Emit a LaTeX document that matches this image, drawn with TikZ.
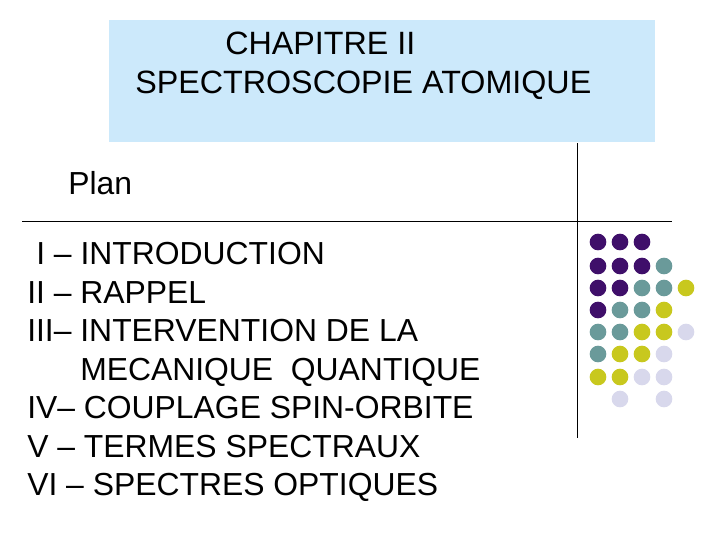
\documentclass[tikz,border=0pt]{standalone}
\usepackage{fontspec}
\setmainfont{Liberation Sans}
\begin{document}
\begin{tikzpicture}[x=0.75pt,y=-0.75pt,
  txt/.style={anchor=base west,inner sep=0pt,font=\fontsize{23.9}{28}\selectfont},
  ttl/.style={anchor=base west,inner sep=0pt,font=\fontsize{24.2}{28}\selectfont},
  dot/.style={circle,inner sep=0pt,minimum size=12.5pt}]
\useasboundingbox (0,0) rectangle (720,540);
\definecolor{bx}{HTML}{CCE9FB}
\definecolor{P}{HTML}{3F0F6A}
\definecolor{T}{HTML}{6A9A9A}
\definecolor{Y}{HTML}{C8C81E}
\definecolor{L}{HTML}{D8D8EC}
\definecolor{N}{HTML}{FFFFFF}
\fill[bx] (109,20) rectangle (655,142);
\node[ttl] (t1) at (225,54) {CHAPITRE II};
\node[ttl] (t2) at (135,93) {SPECTROSCOPIE ATOMIQUE};
\node[txt] (plan) at (68,194) {Plan};
\draw[black] (22,221) -- (672,221);
\draw[black] (577,143) -- (577,438);
\node[txt] (l1) at (36,264) {I – INTRODUCTION};
\node[txt] (l2) at (27,303) {II – RAPPEL};
\node[txt] (l3) at (27,341) {III– INTERVENTION DE LA};
\node[txt] (l4) at (80,380) {MECANIQUE\ \ QUANTIQUE};
\node[txt] (l5) at (27,418) {IV– COUPLAGE SPIN-ORBITE};
\node[txt] (l6) at (27,457) {V – TERMES SPECTRAUX};
\node[txt] (l7) at (27,495) {VI – SPECTRES OPTIQUES};
\foreach \row/\y in {{P,P,P,N,N}/242,{P,P,P,T,N}/266,{P,P,T,T,Y}/288,{P,T,T,Y,N}/310,{T,T,Y,Y,L}/332,{T,Y,Y,L,N}/354,{Y,Y,L,L,N}/377,{N,L,N,L,N}/399}{
  \foreach \c [count=\i] in \row {
      \node[dot,fill=\c] (d\i\y) at ({576+22*\i},\y) {};
  }
}
\end{tikzpicture}
\end{document}
